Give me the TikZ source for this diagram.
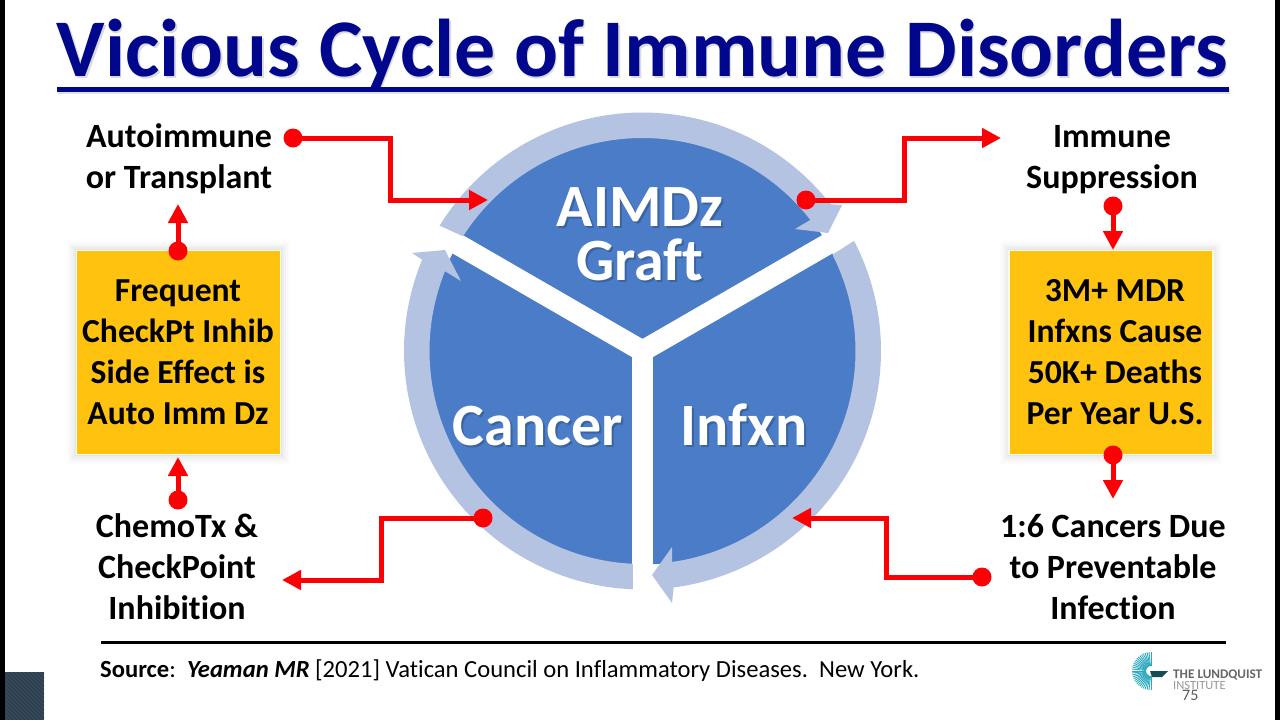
\documentclass[tikz,border=0pt]{standalone}
\usepackage{fontspec}
\setmainfont{Carlito}[Ligatures=NoCommon]
\usetikzlibrary{arrows.meta}
\definecolor{navy}{HTML}{00078C}
\definecolor{ringc}{HTML}{B4C3E2}
\definecolor{discc}{HTML}{4A7CC7}
\definecolor{shadc}{HTML}{3A639F}
\definecolor{boxc}{HTML}{FFC20E}
\definecolor{redc}{HTML}{FC0006}
\definecolor{tealc}{HTML}{2FA9BF}
\definecolor{cornerc}{HTML}{2E3E4E}
\definecolor{cornerd}{HTML}{3A4C5E}
\newcommand{\shadtext}[1]{\makebox[0pt][l]{\hspace{2pt}\raisebox{-2.5pt}{\color{shadc}#1}}#1}
\newcommand{\titleshad}[1]{\makebox[0pt][l]{\hspace{1.5pt}\raisebox{-2pt}{\color{black!14}#1}}#1}
\tikzset{
  x=1pt,y=-1pt,
  label/.style={font=\bfseries\fontsize{34}{41}\selectfont,align=center,text=black,inner sep=0pt},
  boxtext/.style={font=\bfseries\fontsize{33.6}{41}\selectfont,align=center,text=black,inner sep=0pt},
  disctext/.style={font=\bfseries\fontsize{60}{53}\selectfont,align=center,text=white,inner sep=0pt},
  reddot/.style={circle,fill=redc,minimum size=19pt,inner sep=0pt},
  link/.style={draw=redc,line width=5pt,line join=miter},
  linkarrow/.style={link,-{Triangle[length=19pt,width=19pt]}},
  ybox/.style={fill=boxc,draw=white!90!boxc,line width=1.5pt,minimum width=204pt,minimum height=204pt,inner sep=0pt},
  ring/.style={fill=ringc,draw=none},
  band/.style={draw=white,line width=21pt},
  ray/.style={line width=0.9pt},
}
\begin{document}
\begin{tikzpicture}
\useasboundingbox (0,0) rectangle (1280,720);
\fill[white] (0,0) rectangle (1280,720);
\fill[black] (0,0) rectangle (5,720);
\fill[black] (1275,0) rectangle (1280,720);
% corner block
\fill[cornerc] (5,672) rectangle (44,720);
\begin{scope}
\clip (5,672) rectangle (44,720);
\foreach \k in {-50,-46,...,50} \draw[cornerd,line width=1pt] (5+\k,672) -- (55+\k,722);
\end{scope}
% title
\node[anchor=base,text=navy,font=\bfseries\fontsize{81.9}{82}\selectfont,inner sep=0pt] (title) at (642.5,76) {\titleshad{Vicious Cycle of Immune Disorders}};
\draw[black!12,line width=5pt] (58,91.5) -- (1230,91.5);
\draw[navy,line width=5pt] (57,89) -- (1229,89);
% disc
\coordinate (c) at (642.5,351);
\fill[discc] (c) circle[radius=213.5];
\foreach \a in {90,210,330} \draw[band] (c) -- ++(\a:262);
% top ring segment
\fill[ring] ([shift={(211.7:238.5)}]642.5,351) arc[start angle=211.7,end angle=322,radius=238.5]
  -- (842,205) -- (828,233) -- (795,229) -- ([shift={(322:213)}]642.5,351) arc[start angle=322,end angle=212.6,radius=213] -- cycle;
% right ring segment
\fill[ring] ([shift={(-27.5:238.5)}]642.5,351) arc[start angle=-27.5,end angle=82.5,radius=238.5]
  -- (672,603) -- (652,575) -- (672,547) -- ([shift={(82:213)}]642.5,351) arc[start angle=82,end angle=-26.9,radius=213] -- cycle;
% left ring segment
\fill[ring] ([shift={(92.3:238.5)}]642.5,351) arc[start angle=92.3,end angle=202.5,radius=238.5]
  -- (412,253) -- (445,250) -- (461,281) -- ([shift={(202:213)}]642.5,351) arc[start angle=202,end angle=92.6,radius=213] -- cycle;
% disc labels
\node[disctext,anchor=base] (aimdz) at (640,226) {\shadtext{AIMDz}};
\node[disctext,anchor=base] (graft) at (640,280) {\shadtext{Graft}};
\node[disctext,anchor=base] (cancer) at (538,445) {\shadtext{Cancer}};
\node[disctext,anchor=base] (infxn) at (744,445) {\shadtext{Infxn}};
% boxes
\foreach \o/\e in {9/.012,7/.015,5/.02,3/.025,1/.03} {
  \fill[black,opacity=\e] (76-\o,250-\o) rectangle (281+\o,455+\o);
  \fill[black,opacity=\e] (1009-\o,250-\o) rectangle (1213+\o,455+\o);
}
\node[ybox] (lbox) at (178.5,352.5) {};
\node[ybox] (rbox) at (1111,352.5) {};
\node[boxtext] (ltext) at (178,352) {Frequent\\CheckPt Inhib\\Side Effect is\\Auto Imm Dz};
\node[boxtext] (rtext) at (1115,352) {3M+ MDR\\Infxns Cause\\50K+ Deaths\\Per Year U.S.};
% outer labels
\node[label] (auto) at (179,159) {Autoimmune\\or Transplant};
\node[label] (supp) at (1112,159.5) {Immune\\Suppression};
\node[label] (chemo) at (177,567) {ChemoTx \&\\CheckPoint\\Inhibition};
\node[label] (cause) at (1113,567) {1:6 Cancers Due\\to Preventable\\Infection};
% connectors
\node[reddot] (d1) at (293,138) {};
\node[reddot] (d2) at (806,200) {};
\node[reddot] (d3) at (483,518) {};
\node[reddot] (d4) at (982,577) {};
\node[reddot] (d5) at (178,251) {};
\node[reddot] (d6) at (178,500) {};
\node[reddot] (d7) at (1113,206) {};
\node[reddot] (d8) at (1113,455) {};
\coordinate (e1) at (488,200);
\coordinate (e2) at (1001,138);
\coordinate (e3) at (282,580);
\coordinate (e4) at (792,518);
\coordinate (e5) at (178,204);
\coordinate (e6) at (178,457);
\coordinate (e7) at (1113,250);
\coordinate (e8) at (1113,499);
\draw[linkarrow] (d1.center) -- (390,138) -- (390,200) -- (e1);
\draw[linkarrow] (d2.center) -- (904,200) -- (904,138) -- (e2);
\draw[linkarrow] (d3.center) -- (381,518) -- (381,580) -- (e3);
\draw[linkarrow] (d4.center) -- (886,577) -- (886,518) -- (e4);
\draw[linkarrow] (d5.center) -- (e5);
\draw[linkarrow] (d6.center) -- (e6);
\draw[linkarrow] (d7.center) -- (e7);
\draw[linkarrow] (d8.center) -- (e8);
% source
\draw[black,line width=3pt] (101,642) -- (1226,642);
\node[anchor=base west,inner sep=0pt,font=\fontsize{24.6}{26}\selectfont] (source) at (100,677) {\textbf{Source}:\ \ \textbf{\textit{Yeaman MR}} [2021] Vatican Council on Inflammatory Diseases.\ \ New York.};
% logo
\foreach \a in {90,96,...,270} {
  \draw[ray,tealc] (1151,671) ++(\a:5) -- ++(\a:14);
}
\fill[black!55!tealc] (1150,671) -- (1168,671) -- (1162,677) -- (1152,677) -- cycle;
\node[anchor=base west,inner sep=0pt,text=black!60,font=\bfseries\fontsize{13.2}{13}\selectfont] (lq) at (1173,678) {THE LUNDQUIST};
\node[anchor=base west,inner sep=0pt,text=black!40,font=\fontsize{12.5}{13}\selectfont] (inst) at (1173,689.5) {INSTITUTE};
\node[anchor=base west,inner sep=0pt,text=black!65,font=\fontsize{16}{16}\selectfont] (num) at (1182,700.5) {75};
\end{tikzpicture}
\end{document}
